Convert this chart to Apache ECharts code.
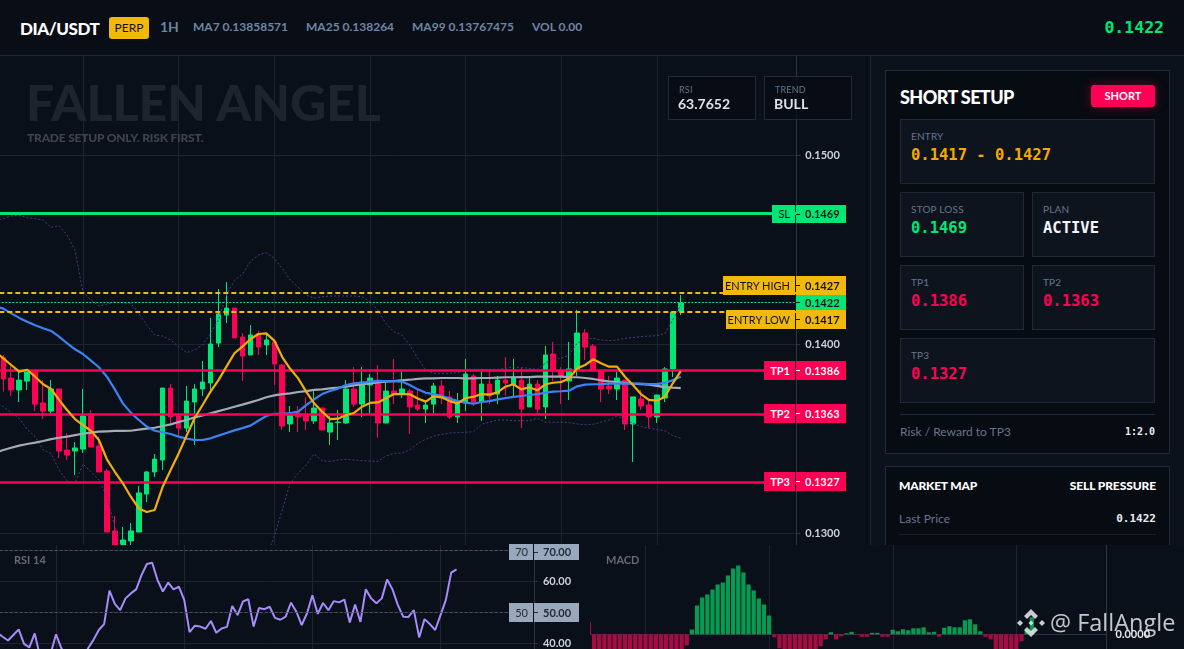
<!DOCTYPE html>
<html><head><meta charset="utf-8">
<script src="https://cdn.jsdelivr.net/npm/echarts@6/dist/echarts.min.js"></script>
<style>
html,body{margin:0;padding:0;background:#0a0f17;width:1184px;height:649px;overflow:hidden}
body{font-family:"Lato","Noto Sans",sans-serif;position:relative}
.a{position:absolute;white-space:nowrap;line-height:1}
.c{position:absolute;overflow:hidden}
.mono{font-family:"DejaVu Sans Mono",monospace;font-weight:700}
.box{position:absolute;box-sizing:border-box;border:1px solid #1f2937;background:#0e141e}
.lab{position:absolute;left:10px;top:11px;font-size:10px;color:#66758c;white-space:nowrap;line-height:1;letter-spacing:.2px}
.val{position:absolute;left:10px;top:28px;font-size:15.5px;white-space:nowrap;line-height:1}
</style></head><body>
<div class="c" id="mainChart" style="left:0;top:55px;width:870px;height:490px;background:#0a1019"></div>
<div class="c" id="rsiChart" style="left:0;top:545px;width:590px;height:104px;background:#0a1019;z-index:2"></div>
<div class="c" id="macdChart" style="left:590px;top:545px;width:594px;height:104px;background:#0a1019;z-index:2"></div>
<div id="tags"></div>

<!-- header -->
<div class="a" style="left:0;top:0;width:1184px;height:55px;background:#090d15;border-bottom:1px solid #1c2733;box-sizing:content-box"></div>
<div class="a" style="left:20px;top:20px;font-size:17px;font-weight:900;color:#fff;letter-spacing:-.45px">DIA/USDT</div>
<div class="a" style="left:109px;top:17px;width:40px;height:22px;background:#f0b90b;border-radius:3px;color:#1a1405;font-size:12px;text-align:center;line-height:22px">PERP</div>
<div class="a" style="left:160px;top:20px;font-size:14px;color:#6d86a6;font-weight:700">1H</div>
<div class="a" style="left:193px;top:21px;font-size:12px;color:#6d86a6;font-weight:700">MA7 0.13858571</div>
<div class="a" style="left:306px;top:21px;font-size:12px;color:#6d86a6;font-weight:700">MA25 0.138264</div>
<div class="a" style="left:412px;top:21px;font-size:12px;color:#6d86a6;font-weight:700">MA99 0.13767475</div>
<div class="a" style="left:532px;top:21px;font-size:12px;color:#6d86a6;font-weight:700">VOL 0.00</div>
<div class="a mono" style="right:20px;top:20px;font-size:16.5px;color:#00e676">0.1422</div>

<!-- title overlay -->
<div class="a" style="left:26px;top:77px;font-size:50px;font-weight:900;color:#1e242d">FALLEN ANGEL</div>
<div class="a" style="left:27px;top:132px;font-size:12px;font-weight:900;color:#3b444f;letter-spacing:-.2px">TRADE SETUP ONLY. RISK FIRST.</div>
<div class="box" style="left:668px;top:76px;width:88px;height:44px;background:rgba(8,12,20,.75);border-color:#1e2c3a"><div class="lab" style="top:8px;font-size:9px">RSI</div><div class="val" style="top:20px;font-size:14px;color:#dbe2ec;font-weight:700;left:9px">63.7652</div></div>
<div class="box" style="left:764px;top:76px;width:88px;height:44px;background:rgba(8,12,20,.75);border-color:#1e2c3a"><div class="lab" style="top:8px;font-size:9px">TREND</div><div class="val" style="top:20px;font-size:14px;color:#dbe2ec;font-weight:700;left:9px">BULL</div></div>

<!-- side panel -->
<div class="a" style="left:870px;top:56px;width:314px;height:489px;background:#0c121b;border-left:1px solid #1c2733;box-sizing:border-box"></div>
<div class="box" style="left:885px;top:70px;width:285px;height:384px;background:#070b12;border-color:#1f2c3b"></div>
<div class="a" style="left:900px;top:88px;font-size:18px;font-weight:900;color:#fff;letter-spacing:-.6px">SHORT SETUP</div>
<div class="a" style="left:1091px;top:85px;width:64px;height:22px;background:#ff0055;border-radius:3px;color:#fff;font-size:11px;font-weight:700;text-align:center;line-height:22px;box-shadow:0 0 12px rgba(255,0,85,.35)">SHORT</div>
<div class="box" style="left:900px;top:119px;width:255px;height:65px"><div class="lab">ENTRY</div><div class="val mono" style="color:#f5a800">0.1417 - 0.1427</div></div>
<div class="box" style="left:900px;top:192px;width:124px;height:65px"><div class="lab">STOP LOSS</div><div class="val mono" style="color:#00e676">0.1469</div></div>
<div class="box" style="left:1032px;top:192px;width:123px;height:65px"><div class="lab">PLAN</div><div class="val mono" style="color:#f2f5fa">ACTIVE</div></div>
<div class="box" style="left:900px;top:265px;width:124px;height:65px"><div class="lab">TP1</div><div class="val mono" style="color:#ff0055">0.1386</div></div>
<div class="box" style="left:1032px;top:265px;width:123px;height:65px"><div class="lab">TP2</div><div class="val mono" style="color:#ff0055">0.1363</div></div>
<div class="box" style="left:900px;top:338px;width:255px;height:65px"><div class="lab">TP3</div><div class="val mono" style="color:#ff0055">0.1327</div></div>
<div class="a" style="left:900px;top:414px;width:255px;height:1px;background:#1f2c3b"></div>
<div class="a" style="left:900px;top:426px;font-size:12px;color:#66758c">Risk / Reward to TP3</div>
<div class="a mono" style="right:29px;top:427px;font-size:10px;color:#e9edf3">1:2.0</div>
<div class="box" style="left:885px;top:466px;width:285px;height:90px;background:#070b12;border-color:#1f2c3b"></div>
<div class="a" style="left:899px;top:480px;font-size:12px;font-weight:900;color:#fff;letter-spacing:-.2px">MARKET MAP</div>
<div class="a" style="right:28px;top:480px;font-size:12px;font-weight:900;color:#fff;letter-spacing:-.1px">SELL PRESSURE</div>
<div class="a" style="left:899px;top:513px;font-size:12px;color:#66758c">Last Price</div>
<div class="a mono" style="right:28px;top:513px;font-size:11px;color:#e9edf3">0.1422</div>
<div class="a" style="left:899px;top:534px;width:257px;height:1px;background:#161f2a"></div>

<div class="a" style="left:14px;top:554px;font-size:11px;font-weight:700;color:#616a76;z-index:3">RSI 14</div>
<div class="a" style="left:606px;top:554px;font-size:11px;font-weight:700;color:#616a76;z-index:3">MACD</div>

<!-- watermark -->
<svg class="a" style="left:1016px;top:608px;opacity:.88;z-index:6" width="30" height="30" viewBox="0 0 30 30">
<g fill="#e4e8ec"><path d="M15 1l7 7-3 3-4-4-4 4-3-3z"/><path d="M4 12l3 3-3 3-3-3z"/><path d="M26 12l3 3-3 3-3-3z"/><path d="M15 29l-7-7 3-3 4 4 4-4 3 3z"/><path d="M15 12.5l2.5 2.5-2.5 2.5-2.5-2.5z"/></g>
</svg>
<div class="a" style="left:1050px;top:611px;font-family:'Open Sans';font-size:23.5px;color:rgba(228,232,236,.85);z-index:6">@ FallAngle</div>

<script>
// --- prices (index 0 sits just left of the visible area) ---
const opens=[null,.13929,.13820,.13757,.13804,.13854,.13688,.13645,.13762,.13439,.13434,.13444,.13619,.13460,.13328,.13011,.12875,.12958,.13005,.13206,.13323,.13386,.13767,.13619,.13555,.13693,.13762,.13794,.14005,.14153,.14190,.14037,.13942,.14053,.13995,.14011,.13889,.13577,.13635,.13619,.13593,.13661,.13534,.13584,.13582,.13762,.13682,.13783,.13809,.13582,.13751,.13735,.13751,.13677,.13656,.13682,.13778,.13720,.13614,.13688,.13831,.13693,.13788,.13735,.13809,.13783,.13809,.13667,.13788,.13667,.13947,.13857,.13804,.13862,.14058,.13989,.13857,.13778,.13762,.13809,.13577,.13709,.13677,.13614,.13714,.13868,.14175];
const closes=[null,.13815,.13757,.13809,.13854,.13682,.13645,.13762,.13434,.13413,.13450,.13619,.13455,.13323,.13005,.12875,.12963,.13011,.13212,.13323,.13391,.13767,.13614,.13555,.13698,.13762,.13799,.14000,.14159,.14190,.14032,.13936,.14048,.13984,.14021,.13894,.13566,.13630,.13614,.13593,.13661,.13545,.13582,.13587,.13762,.13682,.13799,.13820,.13582,.13751,.13735,.13762,.13667,.13656,.13677,.13778,.13720,.13614,.13688,.13841,.13693,.13788,.13725,.13809,.13794,.13825,.13656,.13788,.13656,.13942,.13857,.13831,.13868,.14058,.13984,.13857,.13762,.13762,.13820,.13577,.13720,.13672,.13614,.13730,.13868,.14169,.14217];
const lows=[null,.13748,.13725,.13693,.13757,.13645,.13603,.13624,.13397,.13386,.13307,.13423,.13455,.13323,.13005,.12875,.12839,.12928,.13005,.13164,.13296,.13333,.13582,.13513,.13534,.13466,.13725,.13757,.13984,.14111,.14032,.13804,.13942,.13942,.13942,.13783,.13545,.13534,.13534,.13545,.13577,.13545,.13466,.13492,.13577,.13667,.13614,.13633,.13503,.13582,.13682,.13714,.13524,.13645,.13582,.13633,.13682,.13603,.13582,.13645,.13672,.13593,.13682,.13682,.13725,.13725,.13555,.13667,.13630,.13603,.13804,.13682,.13704,.13831,.13915,.13857,.13693,.13735,.13704,.13545,.13376,.13651,.13555,.13582,.13693,.13825,.14153];
const highs=[null,.13942,.13898,.13854,.13866,.13858,.13809,.13809,.13762,.13529,.13481,.13762,.13651,.13510,.13339,.13090,.13032,.13053,.13249,.13328,.13418,.13767,.13788,.13633,.13778,.13788,.13910,.14138,.14291,.14328,.14190,.14058,.14100,.14069,.14053,.14016,.13894,.13672,.13672,.13720,.13751,.13661,.13619,.13651,.13809,.13878,.13878,.13841,.13889,.13799,.13921,.13857,.13762,.13757,.13698,.13794,.13809,.13751,.13741,.13921,.13841,.13868,.13852,.13831,.13931,.13921,.13878,.13825,.13809,.13989,.14011,.13878,.14011,.14180,.14079,.14000,.13857,.13831,.13852,.13809,.13720,.13757,.13704,.13730,.13878,.14169,.14259];
const ma7=[.13959,.13924,.13889,.13854,.13864,.13827,.13787,.13762,.13704,.13651,.13603,.13571,.13541,.13492,.13390,.13324,.13263,.13192,.13130,.13111,.13122,.13245,.13333,.13421,.13515,.13607,.13677,.13748,.13809,.13880,.13951,.13986,.14025,.14053,.14056,.14018,.13931,.13869,.13818,.13748,.13686,.13642,.13603,.13605,.13624,.13635,.13668,.13688,.13691,.13712,.13735,.13735,.13734,.13712,.13695,.13723,.13718,.13698,.13686,.13714,.13721,.13735,.13732,.13744,.13774,.13787,.13760,.13771,.13755,.13787,.13795,.13799,.13818,.13871,.13889,.13919,.13898,.13880,.13880,.13827,.13783,.13735,.13704,.13700,.13721,.13792,.13857];
const ma25=[.14201,.14187,.14162,.14138,.14118,.14099,.14083,.14069,.14039,.14004,.13972,.13947,.13912,.13877,.13827,.13760,.13686,.13637,.13598,.13563,.13541,.13533,.13524,.13510,.13499,.13492,.13492,.13501,.13515,.13529,.13543,.13555,.13568,.13594,.13619,.13631,.13631,.13635,.13642,.13677,.13707,.13735,.13751,.13764,.13783,.13792,.13795,.13801,.13804,.13804,.13804,.13801,.13783,.13760,.13742,.13735,.13725,.13711,.13698,.13690,.13684,.13693,.13698,.13707,.13714,.13720,.13725,.13730,.13735,.13742,.13748,.13750,.13753,.13776,.13785,.13787,.13788,.13790,.13790,.13792,.13790,.13790,.13788,.13788,.13794,.13809,.13827];
const ma99=[.13425,.13439,.13451,.13462,.13471,.13478,.13487,.13497,.13504,.13510,.13518,.13525,.13531,.13536,.13538,.13540,.13540,.13541,.13547,.13552,.13557,.13566,.13575,.13587,.13598,.13612,.13622,.13633,.13645,.13656,.13668,.13679,.13691,.13704,.13718,.13728,.13735,.13739,.13746,.13751,.13757,.13760,.13765,.13769,.13774,.13781,.13788,.13792,.13797,.13801,.13804,.13808,.13811,.13815,.13818,.13818,.13820,.13820,.13820,.13818,.13818,.13820,.13820,.13822,.13824,.13824,.13825,.13825,.13827,.13827,.13827,.13827,.13825,.13824,.13820,.13815,.13808,.13802,.13799,.13795,.13790,.13788,.13785,.13778,.13772,.13769,.13767];
const bbUpper=[.14656,.14663,.14677,.14681,.14668,.14663,.14656,.14617,.14626,.14577,.14497,.14272,.14233,.14201,.14210,.14224,.14217,.14215,.14162,.14100,.14048,.14042,.14021,.13986,.13954,.13968,.13995,.14056,.14127,.14259,.14335,.14370,.14436,.14471,.14483,.14453,.14400,.14339,.14300,.14259,.14243,.14250,.14254,.14254,.14254,.14254,.14250,.14224,.14180,.14109,.14065,.14048,.13995,.13924,.13862,.13845,.13845,.13845,.13848,.13866,.13866,.13866,.13866,.13866,.13871,.13880,.13875,.13871,.13866,.13898,.13924,.13924,.13942,.14004,.14026,.14030,.14021,.14018,.14021,.14030,.14034,.14039,.14042,.14044,.14056,.14127,.14206];
const bbLower=[.13695,.13668,.13637,.13607,.13548,.13510,.13439,.13421,.13333,.13277,.13263,.13365,.13324,.13280,.13192,.13033,.12892,null,null,null,null,null,null,null,null,null,null,null,null,null,null,null,null,null,.12875,.12981,.13122,.13263,.13316,.13360,.13418,.13383,.13379,.13386,.13390,.13386,.13383,.13381,.13379,.13407,.13421,.13423,.13439,.13474,.13496,.13513,.13522,.13529,.13531,.13533,.13536,.13575,.13586,.13598,.13598,.13594,.13594,.13594,.13607,.13586,.13586,.13587,.13584,.13577,.13573,.13575,.13587,.13598,.13619,.13601,.13580,.13563,.13554,.13548,.13541,.13515,.13501];
const rsi=[43.3,42.0,40.8,42.6,44.4,39.7,38.6,43.1,35.6,34.5,36.7,42.8,38.3,35.6,34.5,34.5,34.5,38.3,41.0,44.2,46.1,56.9,52.6,50.6,54.4,56.0,57.3,61.9,65.5,65.9,60.3,56.6,59.5,57.3,58.2,53.9,43.5,45.6,45.3,44.6,47.1,43.3,44.7,45.2,51.9,49.0,53.4,54.1,45.3,51.3,50.9,51.7,48.1,47.5,48.5,53.0,50.1,45.8,49.6,55.4,49.4,52.9,50.6,53.5,53.1,54.0,46.6,52.4,46.8,57.3,54.4,52.8,54.4,60.5,57.3,52.3,48.5,48.4,50.6,41.8,47.7,46.1,44.2,49.0,53.9,62.7,63.77];
const macdHist=[.00006,-.00009,-.00009,-.00009,-.00009,-.00009,-.00009,-.00009,-.00009,-.00009,-.00009,-.00009,-.00009,-.00009,-.00009,-.00009,-.00009,-.00009,-.00009,-.000055,.000024,.000144,.000184,.000199,.000224,.000249,.000259,.000294,.000329,.000344,.000309,.000249,.000219,.000179,.000149,.000094,-.000015,-.00007,-.00009,-.00009,-.00009,-.00009,-.00009,-.00009,-.00009,-.00006,-.000025,.00001,-.000025,-.00001,.000005,.0000125,-.0000025,-.0000125,-.0000125,.0000075,.0000075,-.0000125,-.0000125,.0000225,.000015,.000025,.00002,.00003,.00003,.000035,.00001,.0000125,-.0000125,.0000325,.00004,.000035,.000035,.00007,.000075,.00005,.000015,-.0000125,-.000025,-.00009,-.00009,-.00009,-.00009,-.00009,-.000035,.00002,.000085];
const levelSL=.1469, levelEntryHigh=.1427, levelLast=.1422, levelEntryLow=.1417, levelTP1=.1386, levelTP2=.1363, levelTP3=.1327;
const rsiGuides=[70,50];
const priceTicks=['0.1500','0.1400','0.1300'];

const SLOTS=101, UP='#00e676', DOWN='#ff0055', GRID='#1b2430', AXIS='#2a3644', LABEL='#ccd2db';
const cats=Array.from({length:SLOTS},(_,i)=>String(i));
const pad=a=>a.concat(Array(SLOTS-a.length).fill(null));
const candles=pad(opens.map((o,i)=>o===null?null:[o,closes[i],lows[i],highs[i]])).map(d=>d===null?'-':d);
const lineS=(name,data,color,width,type,z)=>({name,type:'line',data:pad(data),symbol:'none',smooth:false,silent:true,z,animation:false,
  lineStyle:{color,width,type:type||'solid'},connectNulls:false});
const xAx=(every,first,last)=>({type:'category',data:cats,boundaryGap:true,axisLabel:{show:false},axisLine:{show:false},axisTick:{show:false},
  splitLine:{show:true,alignWithLabel:true,interval:(i)=>{const k=i-1;return k>=first&&k<=last&&(k-first)%every===0;},lineStyle:{color:GRID,width:1}}});
const ml=(v,color,width,type)=>({yAxis:v,lineStyle:{color,width,type}});

const mainC=echarts.init(document.getElementById('mainChart'));
mainC.setOption({animation:false,backgroundColor:'transparent',
 grid:{left:-8.68,width:805,top:-89,height:756,containLabel:false,outerBoundsMode:'none'},
 xAxis:xAx(12,10,82),
 yAxis:{type:'value',position:'right',min:.12,max:.16,interval:.01,
  axisLine:{show:true,lineStyle:{color:AXIS}},axisTick:{show:true,length:4,lineStyle:{color:AXIS}},
  axisLabel:{color:LABEL,fontSize:11,fontWeight:700,fontFamily:'Lato',margin:9,
    formatter:v=>{const s=v.toFixed(4);return priceTicks.includes(s)?s:'';}},
  splitLine:{show:true,lineStyle:{color:GRID,width:1}}},
 series:[
  {name:'levels',type:'line',data:[],z:1,silent:true,markLine:{silent:true,symbol:'none',precision:6,label:{show:false},animation:false,data:[
    ml(levelSL,UP,3,'solid'),
    ml(levelEntryHigh,'#f0b90b',2,[5,3]),
    ml(levelEntryLow,'#f0b90b',2,[5,3]),
    ml(levelLast,'#1fd59a',1,[2,1.5]),
    ml(levelTP1,DOWN,2.5,'solid'),ml(levelTP2,DOWN,2.5,'solid'),ml(levelTP3,DOWN,2.5,'solid')]}},
  {name:'DIA/USDT',type:'candlestick',data:candles,barWidth:5,z:2,
   itemStyle:{color:UP,color0:DOWN,borderColor:UP,borderColor0:DOWN,borderWidth:1}},
  lineS('BB upper',bbUpper,'#4c3b87',1,[2,2],3),
  lineS('BB lower',bbLower,'#4c3b87',1,[2,2],3),
  lineS('MA99',ma99,'#a4abb6',2.2,null,4),
  lineS('MA25',ma25,'#3b82f6',2.2,null,4),
  lineS('MA7',ma7,'#f0ad0b',2.2,null,5)
 ]});

const rsiC=echarts.init(document.getElementById('rsiChart'));
rsiC.setOption({animation:false,
 grid:{left:-5.33,width:539.3,top:-26,height:155,outerBoundsMode:'none'},
 xAxis:xAx(24,10,82),
 yAxis:{type:'value',position:'right',min:30,max:80,interval:10,
  axisLine:{show:true,lineStyle:{color:AXIS}},axisTick:{show:true,length:4,lineStyle:{color:AXIS}},
  axisLabel:{color:LABEL,fontSize:11,fontWeight:700,fontFamily:'Lato',margin:9,
   formatter:v=>rsiGuides.includes(v)?'':v.toFixed(2)},
  splitLine:{show:true,lineStyle:{color:GRID,width:1}}},
 series:[Object.assign(lineS('RSI 14',rsi,'#a78bfa',2,null,3),{markLine:{silent:true,symbol:'none',label:{show:false},animation:false,
   data:rsiGuides.map(v=>ml(v,'#4a5260',1,[3,2]))}})]
});

const macdC=echarts.init(document.getElementById('macdChart'));
macdC.setOption({animation:false,
 grid:{left:-3.7,width:520.2,top:-30.7,height:160,outerBoundsMode:'none'},
 xAxis:Object.assign(xAx(24,10,82),{axisLine:{show:true,onZero:true,lineStyle:{color:AXIS}}}),
 yAxis:{type:'value',position:'right',min:-.0002,max:.0006,interval:.0002,
  axisLine:{show:true,lineStyle:{color:AXIS}},
  axisTick:{show:false},
  axisLabel:{color:'#e6e9ee',fontSize:11,fontWeight:700,fontFamily:'Lato',margin:9,formatter:v=>Math.abs(v)<1e-9?'0.0000':''},
  splitLine:{show:false}},
 series:[{name:'MACD',type:'bar',data:pad(macdHist),barWidth:'82%',z:3,
  itemStyle:{color:p=>(p.dataIndex===0||p.value<0)?'#a80b43':'#079a52'}}]
});

// --- price tags, placed through the chart's own scale ---
const tagRoot=document.getElementById('tags');
function tag(chart,originTop,value,left,right,bg,fg,leftText,rightText,axisX,h,dy,leftWeight){
  const y=chart.convertToPixel({yAxisIndex:0},value)+originTop+dy;
  const top=Math.round(y-h/2);
  const mk=(css,txt)=>{const d=document.createElement('div');d.className='a';d.style.cssText=css;d.textContent=txt;tagRoot.appendChild(d);};
  const fs='font-size:11px;color:'+fg+';line-height:'+h+'px;';
  if(left<axisX-1) mk(`left:${left}px;top:${top}px;width:${axisX-left-1}px;height:${h}px;background:${bg};text-align:right;padding-right:5px;box-sizing:border-box;z-index:3;font-weight:${leftWeight||700};${fs}`,leftText);
  mk(`left:${axisX}px;top:${top}px;width:${right-axisX}px;height:${h}px;background:${bg};padding-left:9px;box-sizing:border-box;z-index:3;font-weight:700;${fs}`,rightText);
  mk(`left:${axisX}px;top:${top+Math.floor(h/2)}px;width:4px;height:1px;background:${fg};z-index:4`,'');
}
const INK='#14130b';
tag(mainC,55,levelSL,772,846,UP,'#08170f','SL','0.1469',796,18,0,400);
tag(mainC,55,levelEntryHigh,723,846,'#f0b90b',INK,'ENTRY HIGH','0.1427',796,19,-7.5,400);
tag(mainC,55,levelLast,796,846,UP,'#08170f','','0.1422',796,15,0);
tag(mainC,55,levelEntryLow,726,846,'#f0b90b',INK,'ENTRY LOW','0.1417',796,19,8,400);
tag(mainC,55,levelTP1,764,846,DOWN,'#fff','TP1','0.1386',796,19,0);
tag(mainC,55,levelTP2,764,846,DOWN,'#fff','TP2','0.1363',796,19,0);
tag(mainC,55,levelTP3,764,846,DOWN,'#fff','TP3','0.1327',796,19,0);
tag(rsiC,545,70,509,579,'#9aa8bd','#242b36','70','70.00',534,16,2,400);
tag(rsiC,545,50,509,579,'#9aa8bd','#242b36','50','50.00',534,19,0,400);
</script>
</body></html>
